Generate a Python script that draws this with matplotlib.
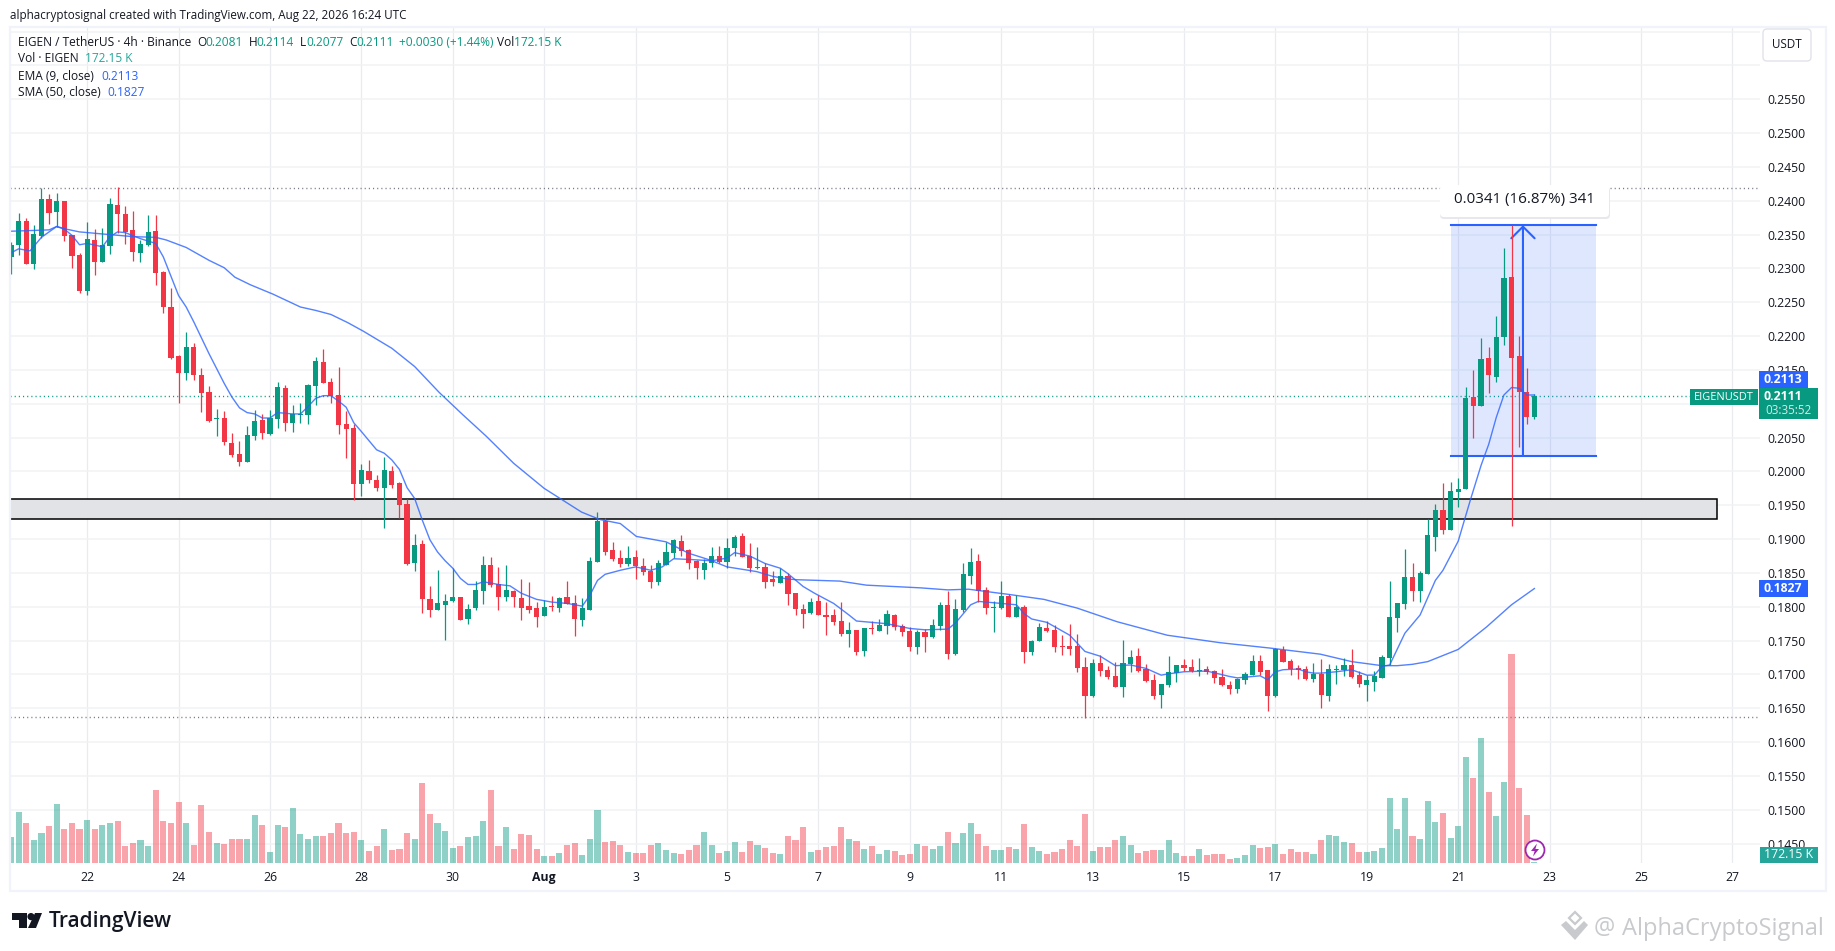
import matplotlib
matplotlib.use('Agg')
import matplotlib.pyplot as plt
import numpy as np
from matplotlib.patches import Rectangle, FancyBboxPatch, Polygon, Circle

plt.rcParams['font.family'] = ['Open Sans', 'DejaVu Sans']

# 4h candles, Jul 20 08:00 to Aug 22 16:00
open_ = [
    .2317, .2334, .2370, .2306, .2348, .2402, .2383, .2400, .2349, .2320,
    .2266, .2342, .2309, .2333, .2394, .2380, .2357, .2323, .2334, .2355,
    .2295, .2243, .2170, .2145, .2184, .2142, .2117, .2077, .2079, .2042,
    .2026, .2014, .2052, .2076, .2055, .2077, .2123, .2071, .2084, .2083,
    .2126, .2162, .2132, .2113, .2070, .2064, .1981, .2000, .1987, .1975,
    .2000, .1983, .1952, .1865, .1893, .1811, .1795, .1802, .1808, .1814,
    .1782, .1798, .1823, .1862, .1833, .1814, .1823, .1813, .1801, .1798,
    .1786, .1800, .1798, .1814, .1805, .1780, .1795, .1866, .1927, .1884,
    .1872, .1863, .1874, .1860, .1853, .1837, .1862, .1880, .1897, .1884,
    .1868, .1854, .1865, .1875, .1866, .1887, .1905, .1875, .1857, .1859,
    .1841, .1835, .1846, .1820, .1797, .1791, .1809, .1788, .1788, .1779,
    .1760, .1766, .1735, .1769, .1764, .1772, .1788, .1772, .1764, .1741,
    .1763, .1755, .1772, .1803, .1730, .1795, .1846, .1868, .1825, .1798,
    .1798, .1816, .1785, .1800, .1733, .1750, .1769, .1766, .1742, .1742,
    .1742, .1711, .1668, .1717, .1707, .1698, .1682, .1716, .1727, .1708,
    .1692, .1670, .1684, .1702, .1714, .1711, .1705, .1708, .1705, .1696,
    .1684, .1679, .1692, .1699, .1720, .1707, .1668, .1736, .1720, .1710,
    .1708, .1693, .1701, .1668, .1707, .1707, .1714, .1699, .1684, .1689,
    .1695, .1724, .1783, .1804, .1844, .1824, .1848, .1903, .1943, .1914,
    .1970, .1974, .2110, .2097, .2167, .2139, .2198, .2287, .2170, .2117,
    .2081]
high = [
    .2339, .2382, .2374, .2364, .2419, .2410, .2411, .2400, .2349, .2323,
    .2368, .2358, .2360, .2404, .2420, .2392, .2385, .2342, .2379, .2379,
    .2296, .2271, .2172, .2206, .2190, .2153, .2126, .2092, .2089, .2057,
    .2045, .2067, .2091, .2085, .2091, .2132, .2128, .2098, .2101, .2129,
    .2169, .2181, .2138, .2155, .2089, .2070, .2011, .2017, .1995, .2021,
    .2008, .1984, .1959, .1907, .1899, .1831, .1854, .1819, .1857, .1814,
    .1804, .1838, .1875, .1873, .1859, .1862, .1825, .1841, .1836, .1807,
    .1810, .1816, .1814, .1838, .1817, .1813, .1873, .1940, .1931, .1896,
    .1884, .1890, .1884, .1872, .1862, .1869, .1896, .1900, .1906, .1885,
    .1869, .1871, .1888, .1890, .1902, .1906, .1909, .1894, .1888, .1865,
    .1853, .1857, .1850, .1820, .1804, .1813, .1817, .1807, .1797, .1807,
    .1778, .1766, .1769, .1779, .1782, .1795, .1789, .1775, .1770, .1766,
    .1767, .1782, .1807, .1823, .1812, .1865, .1887, .1878, .1829, .1809,
    .1838, .1819, .1817, .1803, .1751, .1776, .1779, .1773, .1758, .1775,
    .1760, .1726, .1723, .1729, .1713, .1718, .1751, .1736, .1739, .1716,
    .1701, .1686, .1727, .1714, .1723, .1723, .1724, .1713, .1707, .1708,
    .1690, .1695, .1704, .1729, .1729, .1707, .1739, .1742, .1723, .1714,
    .1713, .1717, .1723, .1716, .1714, .1724, .1738, .1705, .1699, .1705,
    .1729, .1838, .1806, .1886, .1865, .1853, .1930, .1952, .1983, .1984,
    .1991, .2125, .2150, .2197, .2184, .2229, .2330, .2364, .2200, .2153,
    .2114]
low = [
    .2292, .2320, .2306, .2299, .2345, .2366, .2361, .2340, .2300, .2263,
    .2261, .2290, .2309, .2321, .2352, .2336, .2311, .2309, .2333, .2275,
    .2234, .2166, .2101, .2135, .2135, .2088, .2073, .2052, .2039, .2021,
    .2008, .2014, .2046, .2048, .2054, .2064, .2060, .2058, .2071, .2070,
    .2098, .2131, .2101, .2055, .2020, .1958, .1964, .1983, .1971, .1916,
    .1975, .1931, .1862, .1853, .1791, .1785, .1795, .1751, .1807, .1780,
    .1774, .1795, .1804, .1829, .1795, .1808, .1800, .1780, .1791, .1770,
    .1786, .1794, .1792, .1804, .1757, .1771, .1795, .1866, .1876, .1868,
    .1859, .1860, .1841, .1847, .1828, .1832, .1862, .1872, .1875, .1856,
    .1841, .1841, .1859, .1865, .1857, .1875, .1874, .1851, .1856, .1828,
    .1831, .1835, .1803, .1788, .1769, .1789, .1788, .1758, .1773, .1757,
    .1741, .1729, .1727, .1760, .1764, .1760, .1766, .1757, .1735, .1730,
    .1733, .1754, .1766, .1723, .1729, .1792, .1834, .1807, .1789, .1763,
    .1797, .1785, .1785, .1717, .1729, .1750, .1763, .1733, .1729, .1729,
    .1704, .1636, .1667, .1698, .1693, .1682, .1667, .1704, .1704, .1689,
    .1664, .1650, .1682, .1689, .1705, .1704, .1698, .1701, .1687, .1683,
    .1671, .1673, .1686, .1699, .1699, .1646, .1667, .1718, .1699, .1693,
    .1692, .1689, .1650, .1661, .1686, .1698, .1695, .1682, .1661, .1676,
    .1695, .1714, .1763, .1797, .1808, .1807, .1848, .1883, .1907, .1914,
    .1948, .1974, .2049, .2097, .2116, .2132, .2187, .1920, .2036, .2070,
    .2077]
close = [
    .2334, .2370, .2306, .2351, .2402, .2382, .2400, .2348, .2318, .2266,
    .2343, .2309, .2334, .2395, .2380, .2354, .2324, .2336, .2354, .2293,
    .2243, .2167, .2145, .2184, .2142, .2116, .2074, .2078, .2043, .2024,
    .2014, .2054, .2074, .2057, .2079, .2125, .2071, .2085, .2085, .2128,
    .2163, .2131, .2112, .2068, .2063, .1981, .2002, .1987, .1975, .2002,
    .1980, .1950, .1863, .1891, .1811, .1795, .1805, .1808, .1814, .1780,
    .1797, .1825, .1862, .1832, .1814, .1825, .1814, .1798, .1795, .1785,
    .1800, .1799, .1813, .1804, .1782, .1798, .1867, .1927, .1881, .1871,
    .1863, .1872, .1860, .1851, .1837, .1865, .1881, .1899, .1882, .1865,
    .1857, .1865, .1875, .1866, .1887, .1903, .1874, .1857, .1859, .1837,
    .1837, .1846, .1819, .1797, .1789, .1807, .1788, .1785, .1778, .1760,
    .1766, .1733, .1769, .1767, .1773, .1789, .1770, .1763, .1741, .1763,
    .1755, .1773, .1803, .1730, .1797, .1849, .1866, .1823, .1798, .1800,
    .1816, .1785, .1800, .1733, .1750, .1770, .1764, .1741, .1741, .1738,
    .1710, .1668, .1717, .1705, .1696, .1682, .1717, .1726, .1705, .1690,
    .1668, .1686, .1704, .1714, .1710, .1705, .1707, .1704, .1695, .1684,
    .1679, .1693, .1701, .1720, .1704, .1668, .1738, .1718, .1708, .1707,
    .1693, .1701, .1670, .1708, .1708, .1714, .1696, .1686, .1692, .1698,
    .1726, .1785, .1806, .1844, .1824, .1850, .1906, .1943, .1914, .1971,
    .1974, .2108, .2097, .2166, .2142, .2198, .2286, .2167, .2117, .2080,
    .2111]
# volume in thousands
volume = [
    3120, 6120, 4800, 2760, 3600, 4440, 7080, 4080, 4800, 4080,
    5160, 4080, 4560, 4800, 5040, 2040, 2400, 2760, 2040, 8760,
    5040, 4800, 7320, 4800, 2160, 6960, 3720, 2400, 2280, 2880,
    2880, 2880, 5760, 4560, 1320, 4560, 4320, 6600, 3480, 2880,
    3240, 3240, 3600, 4800, 3600, 3720, 2760, 1440, 2040, 4080,
    1560, 1680, 3600, 2880, 9600, 5880, 4800, 3840, 1800, 2040,
    3120, 3240, 5040, 8760, 2040, 4320, 1680, 3480, 3360, 1680,
    840, 840, 1200, 2160, 2400, 960, 2880, 6360, 2520, 2640,
    2160, 1320, 1200, 1200, 2160, 2400, 1560, 1200, 1080, 1560,
    2160, 3720, 2160, 1200, 1440, 2520, 1320, 2640, 2160, 1800,
    1200, 1080, 3240, 2760, 4320, 1320, 1560, 1920, 2040, 4320,
    2880, 2640, 1680, 2040, 1080, 1560, 1440, 960, 1080, 2280,
    2040, 1680, 2040, 3720, 2400, 3600, 4800, 3480, 2040, 1560,
    1560, 1920, 1680, 4680, 1920, 1440, 1080, 1320, 1680, 2760,
    2040, 5880, 1440, 1920, 1920, 2760, 3240, 2160, 1200, 1440,
    1560, 1560, 2760, 1200, 840, 840, 1680, 960, 1080, 1040,
    440, 560, 920, 2120, 1760, 1880, 2240, 1040, 1640, 1280,
    1280, 1040, 2720, 3320, 3200, 2480, 2360, 1280, 1280, 1400,
    1760, 7760, 4040, 7760, 3200, 2840, 7400, 4880, 5960, 2960,
    4400, 12680, 10160, 14960, 8480, 5600, 9680, 25040, 8960, 5720,
    172.15]

# moving averages at these bars
ema_bars = [0, 1, 2.5, 4, 6, 7, 8, 9, 10, 12, 13, 14, 15, 17, 19, 20, 22, 23, 24, 26, 28, 29, 30, 31, 32, 33, 34, 35,
            37, 38, 39, 40, 41, 42, 43, 44, 45, 46, 48, 49, 50, 51, 52, 53, 54, 55, 56, 57, 58, 59, 60, 61, 62, 64,
            65.5, 67, 69, 71, 73, 75, 76, 77, 78, 80, 82, 84, 85.5, 87, 89, 92, 94, 95, 97, 99, 101, 102, 104, 105.5,
            108, 110, 111, 113, 115, 118, 120, 123, 124, 126, 127, 130, 132, 133, 134, 136, 139, 141, 143, 145, 147,
            149, 151, 152, 154, 157, 160, 161, 163, 164, 165, 166, 167, 169, 170, 171, 172, 174, 176, 178, 179, 180,
            181, 183, 185, 187, 188, 190, 191.6, 193, 194, 195, 196, 197, 198, 199, 200]
ema_vals = [.2323, .2329, .2326, .2346, .2362, .2358, .2349, .2335, .2337, .2332, .2347, .2354, .2353, .2344, .2337,
            .2317, .2260, .2243, .2221, .2174, .2130, .2110, .2094, .2087, .2085, .2079, .2079, .2087, .2085, .2085,
            .2096, .2108, .2112, .2112, .2104, .2095, .2072, .2059, .2032, .2027, .2017, .2003, .1976, .1960, .1928,
            .1899, .1881, .1868, .1857, .1842, .1833, .1833, .1837, .1833, .1831, .1820, .1811, .1807, .1805, .1801,
            .1817, .1839, .1848, .1854, .1859, .1854, .1859, .1871, .1870, .1868, .1872, .1880, .1875, .1864, .1857,
            .1849, .1830, .1820, .1805, .1788, .1779, .1777, .1775, .1768, .1766, .1767, .1776, .1803, .1808, .1805,
            .1803, .1790, .1782, .1777, .1758, .1734, .1727, .1713, .1714, .1709, .1699, .1701, .1704, .1705, .1697,
            .1695, .1697, .1698, .1692, .1704, .1707, .1708, .1704, .1702, .1702, .1704, .1707, .1699, .1699, .1712,
            .1714, .1761, .1788, .1839, .1854, .1897, .1958, .2009, .2040, .2080, .2113, .2124, .2123, .2113, .2113]
sma_bars = [0, 5, 6, 7.3, 9, 12, 14, 16, 19, 20.4, 23, 26, 28, 29.4, 31.4, 34.4, 38, 40, 42, 44.2, 46.3, 50, 53, 56.2,
            59.3, 62.4, 66, 70, 74.9, 77.3, 80, 82.1, 86, 89, 91.8, 94, 97.9, 100, 102, 103.2, 108.8, 112.3, 119.4,
            123, 125.7, 131.2, 135.6, 140, 145.2, 151.8, 158.7, 165.3, 171.9, 176, 180, 182, 184, 186, 190, 193.7,
            197, 200]
sma_vals = [.2355, .2357, .2362, .2358, .2354, .2351, .2349, .2347, .2346, .2342, .2331, .2312, .2301, .2287, .2276,
            .2262, .2243, .2238, .2232, .2220, .2207, .2182, .2155, .2117, .2084, .2052, .2012, .1975, .1940, .1929,
            .1923, .1904, .1896, .1879, .1869, .1859, .1852, .1845, .1841, .1840, .1838, .1832, .1828, .1825, .1826,
            .1818, .1811, .1798, .1778, .1758, .1747, .1739, .1730, .1719, .1713, .1713, .1715, .1719, .1737, .1770,
            .1803, .1827]

price_ticks = [.145, .15, .155, .16, .165, .17, .175, .18, .185, .19, .195, .2, .205, .21, .215, .22, .225, .23, .235,
               .24, .245, .25, .255, .26, .265]
price_labels = ['0.1450', '0.1500', '0.1550', '0.1600', '0.1650', '0.1700', '0.1750', '0.1800', '0.1850', '0.1900',
                '0.1950', '0.2000', '0.2050', '0.2100', '0.2150', '0.2200', '0.2250', '0.2300', '0.2350', '0.2400',
                '0.2450', '0.2500', '0.2550', '', '']
date_labels = ['22', '24', '26', '28', '30', 'Aug', '3', '5', '7', '9', '11', '13', '15', '17', '19', '21', '23', '25',
               '27']
date_bars = [10, 22, 34, 46, 58, 70, 82, 94, 106, 118, 130, 142, 154, 166, 178, 190, 202, 214, 226]

GREEN = '#089981'
RED = '#f23645'
BLUE = '#2962ff'
W, H = 1835, 951
fig = plt.figure(figsize=(W / 100, H / 100), dpi=100, facecolor='white')


def px_axes(left, top, right, bottom, z):
    a = fig.add_axes([left / W, 1 - bottom / H, (right - left) / W, (bottom - top) / H], zorder=z)
    a.set_facecolor('none')
    for s in a.spines.values():
        s.set_visible(False)
    return a


xlim = (-0.13, 229.62)
ylim = (0.14214, 0.26568)
x = np.arange(len(close))
o, h, l, c = np.array(open_), np.array(high), np.array(low), np.array(close)
up = c >= o

# grid and the axis labels sit at the back
ax_grid = px_axes(10, 27, 1760, 863, 1)
ax_grid.set_xlim(xlim)
ax_grid.set_ylim(ylim)
ax_grid.yaxis.tick_right()
ax_grid.set_yticks(price_ticks)
ax_grid.set_yticklabels(price_labels)
ax_grid.set_xticks(date_bars)
ax_grid.set_xticklabels(date_labels)
ax_grid.tick_params(axis='y', length=0, pad=5, labelsize=8.8, labelcolor='#131722')
ax_grid.tick_params(axis='x', length=0, pad=6, labelsize=8.8, labelcolor='#131722')
ax_grid.get_xticklabels()[5].set_fontweight('bold')
ax_grid.grid(axis='y', color='#f0f2f5', lw=1.1)
ax_grid.grid(axis='x', color='#e9ebef', lw=0.9)
ax_grid.set_axisbelow(True)

ax_vol = px_axes(10, 27, 1760, 863, 2)
ax_vol.set_xlim(xlim)
ax_vol.set_ylim(0, 100320)
ax_vol.axis('off')
ax_vol.bar(x, volume, width=0.8, color=np.where(up, GREEN, RED), alpha=0.45, lw=0)

ax = px_axes(10, 27, 1760, 863, 3)
ax.set_xlim(xlim)
ax.set_ylim(ylim)
ax.axis('off')

# support zone and key levels
ax.add_patch(Rectangle((-2, 0.1930), 226, 0.0030, fc='#e1e3e6', ec='black', lw=1.1, zorder=1))
ax.axhline(0.2419, color='#787b86', lw=1, ls=(0, (0.8, 2.2)), zorder=1.5)
ax.axhline(0.1637, color='#787b86', lw=1, ls=(0, (0.8, 2.2)), zorder=1.5)
ax.axhline(0.2111, color=GREEN, lw=1, ls=(0, (0.8, 2.2)), zorder=1.5)

# price range tool
ax.add_patch(Rectangle((189, 0.2023), 19.1, 0.0341, fc=BLUE, alpha=0.15, lw=0, zorder=1.6))
ax.plot([189, 208.1], [0.2364, 0.2364], color=BLUE, lw=1.5, zorder=1.7)
ax.plot([189, 208.1], [0.2023, 0.2023], color=BLUE, lw=1.5, zorder=1.7)
ax.annotate('', xy=(198.5, 0.2364), xytext=(198.5, 0.2023), zorder=1.7,
            arrowprops=dict(arrowstyle='->,head_length=0.6,head_width=0.6', color=BLUE, lw=1.5,
                            shrinkA=0, shrinkB=0, mutation_scale=14))

# candles
colors = np.where(up, GREEN, RED)
ax.vlines(x, l, h, colors=colors, lw=0.9, zorder=3)
ax.bar(x, np.maximum(np.abs(c - o), 0.00015), bottom=np.minimum(o, c), width=0.68, color=colors, lw=0, zorder=3.1)

ax.plot(ema_bars, ema_vals, color=BLUE, lw=1, alpha=0.8, zorder=4)
ax.plot(sma_bars, sma_vals, color=BLUE, lw=1, alpha=0.8, zorder=4)

# everything outside the plot, in pixels
ov = px_axes(0, 0, W, H, 5)
ov.set_xlim(0, W)
ov.set_ylim(H, 0)
ov.axis('off')


def txt(px, py, s, color='#131722', size=8.6, **kw):
    kw.setdefault('va', 'center')
    ov.text(px, py, s, color=color, fontsize=size, **kw)


def tag(left, top, right, bottom, color):
    ov.add_patch(Rectangle((left, top), right - left, bottom - top, fc=color, lw=0))


# chart frame
ov.add_patch(Rectangle((9.5, 27), 1816.5, 863.5, fc='none', ec='#f0f3fa', lw=1.6))

txt(10, 15, 'alphacryptosignal created with TradingView.com, Aug 22, 2026 16:24 UTC', size=8.35)
txt(18, 42, 'EIGEN / TetherUS · 4h · Binance')
for px, s in [(197, 'O'), (248.6, 'H'), (299.6, 'L'), (349, 'C'), (497, 'Vol')]:
    txt(px, 42, s)
for px, s in [(205, '0.2081'), (256.5, '0.2114'), (306, '0.2077'), (356.5, '0.2111'), (399, '+0.0030 (+1.44%)'),
              (514, '172.15 K')]:
    txt(px, 42, s, color=GREEN)
txt(18, 59, 'Vol · EIGEN')
txt(85, 59, '172.15 K', color='#26a69a')
txt(18, 76, 'EMA (9, close)')
txt(101, 76, '0.2113', color=BLUE)
txt(18, 93, 'SMA (50, close)')
txt(107, 93, '0.1827', color=BLUE)

# measure label
ov.add_patch(FancyBboxPatch((1440, 187), 170, 32, boxstyle='round,pad=0,rounding_size=4', fc='#e6e8ed', ec='none'))
ov.add_patch(FancyBboxPatch((1440, 185), 169, 32, boxstyle='round,pad=0,rounding_size=4', fc='white', ec='none'))
txt(1524, 200, '0.0341 (16.87%) 341', size=10.9, ha='center')

# price scale tags
ov.add_patch(FancyBboxPatch((1763, 29), 48, 32, boxstyle='round,pad=0,rounding_size=4', fc='white', ec='#e0e3eb', lw=1))
txt(1787, 45, 'USDT', size=8.4, ha='center')
tag(1758.5, 371, 1807.5, 388, BLUE)
txt(1783, 379.5, '0.2113', color='white', ha='center', weight='bold', size=8.8)
tag(1758.5, 388, 1818, 419, GREEN)
txt(1783, 397, '0.2111', color='white', ha='center', weight='bold', size=8.8)
txt(1788, 411, '03:35:52', color='#cfeee8', ha='center', size=8.4)
tag(1690, 388.5, 1757.5, 405, GREEN)
txt(1723.7, 397, 'EIGENUSDT', color='white', ha='center', size=7.9)
tag(1758.5, 580, 1807.5, 597, BLUE)
txt(1783, 588.5, '0.1827', color='white', ha='center', weight='bold', size=8.8)
tag(1760, 847, 1818, 863, '#26a69a')
txt(1789, 855, '172.15 K', color='white', ha='center', size=8.8)

# lightning mark on the last bar
ov.add_patch(Circle((1535, 850), 9.5, fc='white', ec='#9c27b0', lw=1.3))
ov.add_patch(Polygon([(1537, 843.5), (1531, 851), (1534.6, 851), (1533, 856.5), (1539, 849), (1535.4, 849)],
                     fc='#9c27b0', lw=0))

# TradingView logo
ov.add_patch(Polygon([(12, 913), (27, 913), (27, 928), (19, 928), (19, 920), (12, 920)], fc='#131722', lw=0))
ov.add_patch(Circle((31, 916.6), 3.6, fc='#131722', lw=0))
ov.add_patch(Polygon([(35, 913), (42, 913), (36, 928), (28, 928)], fc='#131722', lw=0))
txt(49, 921, 'TradingView', size=15, weight='semibold')

# watermark
wm = '#c8cacd'
ov.add_patch(Polygon([(1575, 912), (1581, 918), (1575, 924), (1569, 918)], fc='none', ec=wm, lw=1.6))
ov.add_patch(Polygon([(1566, 921), (1575, 930), (1584, 921), (1588, 925), (1575, 940), (1561, 925)], fc=wm, lw=0))
txt(1594, 928, '@', color=wm, size=17)
txt(1622, 929, 'AlphaCryptoSignal', color=wm, size=17)

fig.savefig('out.png', dpi=100)
